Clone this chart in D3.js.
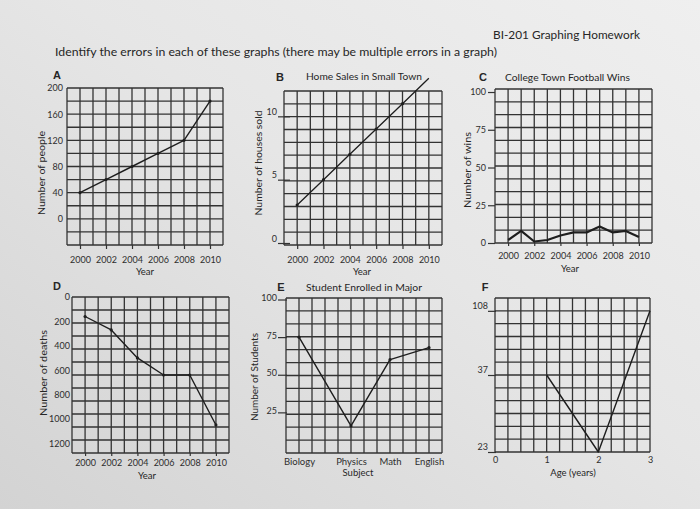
<!DOCTYPE html>
<html>
<head>
<meta charset="utf-8">
<script src="https://cdn.jsdelivr.net/npm/d3@7"></script>
<style>
    body { margin: 0; background: #e4e4e4; }
    svg { display: block; }
    text { font-family: Lato, 'Open Sans', sans-serif; fill: #262626; }
    .letter { font-family: 'Liberation Sans', Arial, sans-serif; font-weight: bold; font-size: 11px; }
    .tick text { font-size: 9px; fill: #2e2e2e; }
    .grid line { stroke: #333; stroke-width: 1.3; }
</style>
</head>
<body>
<svg id="chart" width="700" height="509"></svg>
<script>
const yearTicks = [2000, 2002, 2004, 2006, 2008, 2010];

const peopleA = [40, 60, 80, 100, 120, 180];
const peopleTicksA = [0, 40, 80, 120, 160, 200];

const housesB = [3, 5, 7, 9, 11, 13];
const housesTicksB = [0, 5, 10];

const yearsC = [2000, 2001, 2002, 2003, 2004, 2005, 2006, 2007, 2008, 2009, 2010];
const winsC = [2, 8, 1, 2, 5, 7, 7, 11, 7, 8, 4];
const winsTicksC = [0, 25, 50, 75, 100];

const deathsD = [160, 270, 500, 640, 640, 1050];
const deathsTicksD = [0, 200, 400, 600, 800, 1000, 1200];

const subjectsE = ['Biology', 'Physics', 'Math', 'English'];
const subjectColumnsE = [1, 5, 8, 11];
const studentsE = [75, 16, 60, 68];
const studentTicksE = [25, 50, 75, 100];

const agesF = [1, 2, 3];
const valuesF = [37, 23, 108];
const valueTicksF = [23, 37, 108];
const ageTicksF = [0, 1, 2, 3];

const svg = d3.select('#chart');
const fmt = d3.format('d');

// paper background, darker towards the lower left like the photo
const grad = svg.append('defs').append('linearGradient')
    .attr('id', 'paper').attr('x1', 0).attr('y1', 1).attr('x2', 1).attr('y2', 0);
grad.append('stop').attr('offset', '0%').attr('stop-color', '#d3d3d3');
grad.append('stop').attr('offset', '55%').attr('stop-color', '#e6e6e6');
grad.append('stop').attr('offset', '100%').attr('stop-color', '#efefef');
svg.append('rect').attr('width', 700).attr('height', 509).attr('fill', 'url(#paper)');

// header
svg.append('text').attr('x', 493).attr('y', 35).attr('dy', '0.35em')
    .attr('font-size', 12).attr('textLength', 147).attr('lengthAdjust', 'spacingAndGlyphs')
    .text('BI-201 Graphing Homework');
svg.append('text').attr('x', 55).attr('y', 52).attr('dy', '0.35em')
    .attr('font-size', 11.5).attr('textLength', 442).attr('lengthAdjust', 'spacingAndGlyphs')
    .text('Identify the errors in each of these graphs (there may be multiple errors in a graph)');

// graph paper: 12 x 12 squares inside each box
function drawPaper(box) {
    const g = svg.append('g');
    const gx = d3.scaleLinear().domain([0, 12]).range([box.x0, box.x1]);
    const gy = d3.scaleLinear().domain([0, 12]).range([box.y1, box.y0]);
    const grid = g.append('g').attr('class', 'grid');
    grid.selectAll('line.v').data(d3.range(13)).join('line').attr('class', 'v')
        .attr('x1', d => gx(d)).attr('x2', d => gx(d))
        .attr('y1', box.y0).attr('y2', box.y1);
    grid.selectAll('line.h').data(d3.range(13)).join('line').attr('class', 'h')
        .attr('x1', box.x0).attr('x2', box.x1)
        .attr('y1', d => gy(d)).attr('y2', d => gy(d));
    return { g, gx, gy };
}

function letter(ch, x, y) {
    svg.append('text').attr('class', 'letter').attr('x', x).attr('y', y)
        .attr('dy', '0.35em').attr('text-anchor', 'middle').text(ch);
}

function label(text, x, y, opts = {}) {
    const t = svg.append('text').attr('x', x).attr('y', y).attr('dy', '0.35em')
        .attr('font-size', opts.size || 9.5)
        .attr('text-anchor', opts.anchor || 'middle').text(text);
    if (opts.rotate) t.attr('transform', `rotate(-90,${x},${y})`);
    if (opts.width) t.attr('textLength', opts.width).attr('lengthAdjust', 'spacingAndGlyphs');
    return t;
}

function styleAxis(sel, keepTicks) {
    sel.select('.domain').remove();
    sel.selectAll('.tick line').attr('stroke', keepTicks ? '#333' : 'none').attr('stroke-width', 1.2);
}

function drawLine(g, pts, x, y, width) {
    g.append('path').datum(pts)
        .attr('fill', 'none').attr('stroke', '#1e1e1e').attr('stroke-width', width || 1.4)
        .attr('stroke-linejoin', 'round')
        .attr('d', d3.line().x(d => x(d[0])).y(d => y(d[1])));
}

function drawDots(g, pts, x, y) {
    g.selectAll('circle.pt').data(pts).join('circle').attr('class', 'pt')
        .attr('cx', d => x(d[0])).attr('cy', d => y(d[1])).attr('r', 1.6).attr('fill', '#1e1e1e');
}

// ---- A ----
{
    const box = { x0: 67, x1: 223, y0: 88, y1: 245 };
    const { g } = drawPaper(box);
    const x = d3.scaleLinear().domain([1999, 2011]).range([box.x0, box.x1]);
    const y = d3.scaleLinear().domain([-40, 200]).range([box.y1, box.y0]);
    g.append('g').attr('transform', `translate(${box.x0},0)`)
        .call(d3.axisLeft(y).tickValues(peopleTicksA).tickSize(0).tickPadding(4))
        .call(s => styleAxis(s, false));
    g.append('g').attr('transform', `translate(0,${box.y1})`)
        .call(d3.axisBottom(x).tickValues(yearTicks).tickFormat(fmt).tickSize(4).tickPadding(8))
        .call(s => styleAxis(s, true));
    const pts = d3.zip(yearTicks, peopleA);
    drawLine(g, pts, x, y);
    drawDots(g, pts, x, y);
    letter('A', 57, 75);
    label('Year', 145, 272);
    label('Number of people', 42, 173, { rotate: true, width: 84 });
}

// ---- B ----
{
    const box = { x0: 284, x1: 442, y0: 91, y1: 245 };
    const { g } = drawPaper(box);
    const x = d3.scaleLinear().domain([1999, 2011]).range([box.x0, box.x1]);
    const y = d3.scaleLinear().domain([0, 12]).range([box.y1 - 2, box.y0]);
    g.append('g').attr('transform', `translate(${box.x0 + 6},0)`)
        .call(d3.axisLeft(y).tickValues(housesTicksB).tickSize(12).tickPadding(1))
        .call(s => styleAxis(s, true))
        .call(s => s.selectAll('.tick text').attr('dy', '-0.2em'));
    g.append('g').attr('transform', `translate(0,${box.y1})`)
        .call(d3.axisBottom(x).tickValues(yearTicks).tickFormat(fmt).tickSize(4).tickPadding(8))
        .call(s => styleAxis(s, true));
    const pts = d3.zip(yearTicks, housesB);
    drawLine(g, pts, x, y, 1.3);
    drawDots(g, pts.slice(0, 5), x, y);
    letter('B', 280, 77);
    label('Home Sales in Small Town', 306, 77, { anchor: 'start', size: 9.5, width: 116 });
    label('Year', 362, 272);
    label('Number of houses sold', 259, 163, { rotate: true, width: 105 });
}

// ---- C ----
{
    const box = { x0: 495, x1: 652, y0: 89, y1: 243 };
    const { g } = drawPaper(box);
    const x = d3.scaleLinear().domain([1999, 2011]).range([box.x0, box.x1]);
    const y = d3.scaleLinear().domain([0, 102]).range([box.y1, box.y0]);
    g.append('g').attr('transform', `translate(${box.x0},0)`)
        .call(d3.axisLeft(y).tickValues(winsTicksC).tickSize(7).tickPadding(2))
        .call(s => styleAxis(s, true));
    g.append('g').attr('transform', `translate(0,${box.y1})`)
        .call(d3.axisBottom(x).tickValues(yearTicks).tickFormat(fmt).tickSize(3).tickPadding(7))
        .call(s => styleAxis(s, true));
    drawLine(g, d3.zip(yearsC, winsC), x, y, 2.2);
    letter('C', 483, 77);
    label('College Town Football Wins', 505, 78, { anchor: 'start', size: 9.5, width: 125 });
    label('Year', 570, 269);
    label('Number of wins', 468, 170, { rotate: true, width: 76 });
}

// ---- D ----
{
    const box = { x0: 72, x1: 229, y0: 297, y1: 453 };
    const { g } = drawPaper(box);
    const x = d3.scaleLinear().domain([1999, 2011]).range([box.x0, box.x1]);
    const y = d3.scaleLinear().domain([0, 1280]).range([box.y0, box.y1]);
    g.append('g').attr('transform', `translate(${box.x0},0)`)
        .call(d3.axisLeft(y).tickValues(deathsTicksD).tickFormat(fmt).tickSize(0).tickPadding(2))
        .call(s => styleAxis(s, false));
    g.append('g').attr('transform', `translate(0,${box.y1})`)
        .call(d3.axisBottom(x).tickValues(yearTicks).tickFormat(fmt).tickSize(3).tickPadding(4))
        .call(s => styleAxis(s, true));
    const pts = d3.zip(yearTicks, deathsD);
    drawLine(g, pts, x, y);
    drawDots(g, pts, x, y);
    letter('D', 57, 286);
    label('Year', 147, 476);
    label('Number of deaths', 44, 373, { rotate: true, width: 86 });
}

// ---- E ----
{
    const box = { x0: 286, x1: 442, y0: 298, y1: 453 };
    const { g, gx } = drawPaper(box);
    const y = d3.scaleLinear().domain([-2, 101]).range([box.y1, box.y0]);
    const x = d3.scaleOrdinal().domain(subjectsE).range(subjectColumnsE.map(c => gx(c)));
    g.append('g').attr('transform', `translate(${box.x0 + 1},0)`)
        .call(d3.axisLeft(y).tickValues(studentTicksE).tickSize(9).tickPadding(1))
        .call(s => styleAxis(s, true))
        .call(s => s.selectAll('.tick text').attr('dy', '0.1em'));
    g.append('g').attr('transform', `translate(0,${box.y1})`)
        .call(d3.axisBottom(x).tickSize(0).tickPadding(5))
        .call(s => styleAxis(s, false))
        .call(s => s.selectAll('.tick text').style('font-size', '9.5px'));
    const pts = d3.zip(subjectsE, studentsE);
    drawLine(g, pts, x, y);
    drawDots(g, pts, x, y);
    letter('E', 281, 287);
    label('Student Enrolled in Major', 306, 288, { anchor: 'start', size: 9.5, width: 116 });
    label('Subject', 358, 473);
    label('Number of Students', 255, 377, { rotate: true, width: 88 });
}

// ---- F ----
{
    const box = { x0: 495, x1: 650, y0: 298, y1: 452 };
    const { g, gy } = drawPaper(box);
    const x = d3.scaleLinear().domain([0, 3]).range([box.x0, box.x1]);
    // the printed labels are not evenly spaced: 23 on row 0, 37 on row 6, 108 on row 11
    const y = d3.scaleLinear().domain(valueTicksF).range([gy(0), gy(6), gy(11)]);
    g.append('g').attr('transform', `translate(${box.x0 + 1},0)`)
        .call(d3.axisLeft(y).tickValues(valueTicksF).tickSize(8).tickPadding(0))
        .call(s => styleAxis(s, true))
        .call(s => s.selectAll('.tick text').attr('dy', '-0.25em'));
    g.append('g').attr('transform', `translate(0,${box.y1})`)
        .call(d3.axisBottom(x).tickValues(ageTicksF).tickFormat(fmt).tickSize(0).tickPadding(5))
        .call(s => styleAxis(s, false));
    drawLine(g, d3.zip(agesF, valuesF), x, y);
    letter('F', 485, 287);
    label('Age (years)', 573, 473);
}
</script>
</body>
</html>
